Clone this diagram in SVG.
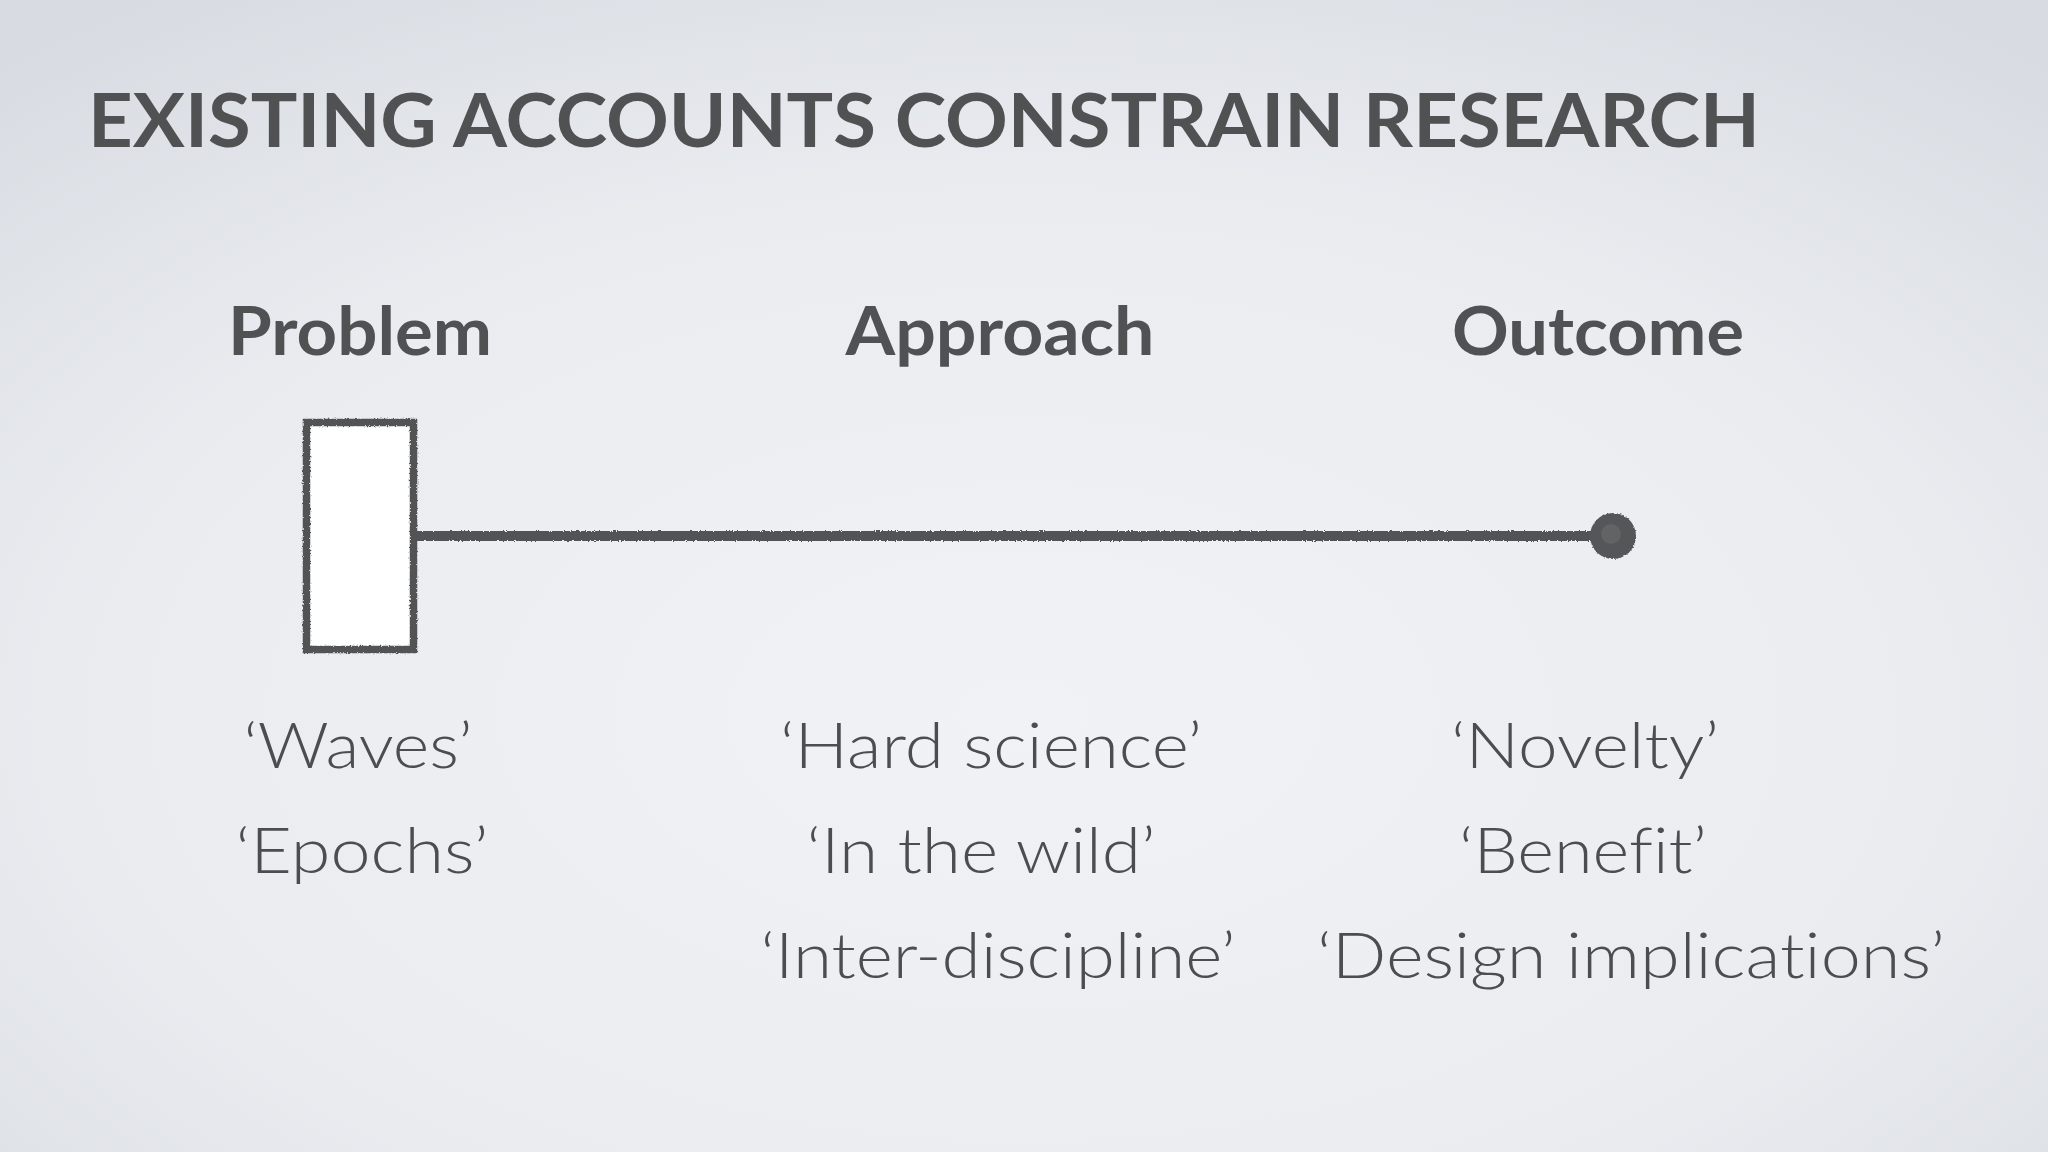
<svg xmlns="http://www.w3.org/2000/svg" width="2048" height="1152" viewBox="0 0 2048 1152">
  <defs>
    <radialGradient id="bg" cx="0.5" cy="0.62" r="0.75">
      <stop offset="0" stop-color="#f1f2f5"/>
      <stop offset="0.6" stop-color="#eaecf0"/>
      <stop offset="1" stop-color="#d8dce2"/>
    </radialGradient>
    <filter id="rough" filterUnits="userSpaceOnUse" x="0" y="0" width="2048" height="1152">
      <feTurbulence type="fractalNoise" baseFrequency="0.6" numOctaves="2" seed="3" result="n"/>
      <feDisplacementMap in="SourceGraphic" in2="n" scale="3" xChannelSelector="R" yChannelSelector="G"/>
    </filter>
    <style>
      text { font-variant-ligatures: none; font-feature-settings: "liga" 0, "dlig" 0; }
      .title { font-family: Lato, "Open Sans", "Liberation Sans", sans-serif; font-weight: 700; font-size: 75px; fill: #505153; }
      .head { font-family: Lato, "Open Sans", "Liberation Sans", sans-serif; font-weight: 700; font-size: 66px; fill: #505153; text-anchor: middle; }
      .item { font-family: Lato, "Open Sans", "Liberation Sans", sans-serif; font-weight: 300; font-size: 64px; fill: #4c4d50; text-anchor: middle; }
      .ink { stroke: #515254; fill: none; }
    </style>
  </defs>
  <rect width="2048" height="1152" fill="url(#bg)"/>

  <g id="title">
    <text class="title" x="88" y="147" textLength="1672" lengthAdjust="spacingAndGlyphs">EXISTING ACCOUNTS CONSTRAIN RESEARCH</text>
  </g>

  <g id="connectors">
    <line class="ink" x1="416" y1="536" x2="1600" y2="536" stroke-width="10" filter="url(#rough)"/>
  </g>

  <g id="problem">
    <text class="head" x="360" y="355" textLength="264" lengthAdjust="spacingAndGlyphs">Problem</text>
    <rect x="306.5" y="422.5" width="107" height="227" class="ink" stroke-width="7.5" style="fill:#ffffff" filter="url(#rough)"/>
    <text class="item" x="358" y="768" textLength="229" lengthAdjust="spacingAndGlyphs">‘Waves’</text>
    <text class="item" x="362" y="873" textLength="253" lengthAdjust="spacingAndGlyphs">‘Epochs’</text>
  </g>

  <g id="approach">
    <text class="head" x="1000" y="355" textLength="309" lengthAdjust="spacingAndGlyphs">Approach</text>
    <text class="item" x="991" y="768" textLength="422" lengthAdjust="spacingAndGlyphs">‘Hard science’</text>
    <text class="item" x="981" y="873" textLength="349" lengthAdjust="spacingAndGlyphs">‘In the wild’</text>
    <text class="item" x="998" y="978" textLength="475" lengthAdjust="spacingAndGlyphs">‘Inter-discipline’</text>
  </g>

  <g id="outcome">
    <text class="head" x="1598" y="355" textLength="292" lengthAdjust="spacingAndGlyphs">Outcome</text>
    <circle cx="1613" cy="536" r="23" fill="#555759" filter="url(#rough)"/>
    <circle cx="1611" cy="534" r="10" fill="#666a69" opacity="0.7"/>
    <text class="item" x="1585" y="768" textLength="268" lengthAdjust="spacingAndGlyphs">‘Novelty’</text>
    <text class="item" x="1583" y="873" textLength="248" lengthAdjust="spacingAndGlyphs">‘Benefit’</text>
    <text class="item" x="1631" y="978" textLength="628" lengthAdjust="spacingAndGlyphs">‘Design implications’</text>
  </g>
</svg>
